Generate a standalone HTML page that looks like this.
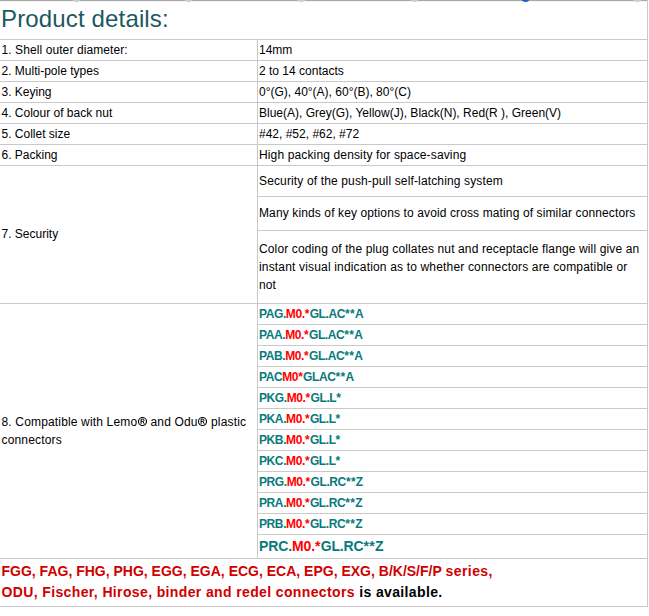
<!DOCTYPE html>
<html><head><meta charset="utf-8">
<style>
html,body{margin:0;padding:0;background:#fff;width:649px;height:616px;overflow:hidden;position:relative;font-family:"Liberation Sans",sans-serif;}
.h{position:absolute;height:1px;background:#c9c9c9;}
.v{position:absolute;width:1px;background:#c9c9c9;}
.t{position:absolute;font-size:12px;line-height:18px;color:#000;white-space:nowrap;}
.c{position:absolute;font-size:12px;line-height:18px;font-weight:bold;color:#087a7c;white-space:nowrap;left:259px;letter-spacing:-0.4px;}
.r{color:#f00;}
.c i{font-style:normal;letter-spacing:0.3px;}
.rg{display:inline-block;vertical-align:baseline;margin:0 0.3px 0 0.5px;position:relative;top:0px;}
.dot{position:absolute;top:-6px;width:9px;height:8px;border-radius:50%;background:#cdcdcd;}
</style></head><body>
<!-- top strip -->
<div class="h" style="left:0;top:0;width:647px;background:#a9a9a9"></div>
<div class="h" style="left:0;top:1px;width:647px;background:#f3f3f3"></div>
<div class="dot" style="left:72px"></div>
<div class="dot" style="left:184px"></div>
<div class="dot" style="left:297px"></div>
<div class="dot" style="left:410px"></div>
<div class="dot" style="left:521px;background:#1565c0"></div>
<div class="dot" style="left:633px"></div>

<div style="position:absolute;left:1px;top:5px;font-size:24px;line-height:28px;color:#1b5962;letter-spacing:0.15px;white-space:nowrap">Product details:</div>

<!-- lines -->
<div class="h" style="left:0;top:39px;width:647px"></div>
<div class="h" style="left:0;top:60px;width:647px"></div>
<div class="h" style="left:0;top:81px;width:647px"></div>
<div class="h" style="left:0;top:102px;width:647px"></div>
<div class="h" style="left:0;top:123px;width:647px"></div>
<div class="h" style="left:0;top:144px;width:647px"></div>
<div class="h" style="left:0;top:165px;width:647px"></div>
<div class="h" style="left:257px;top:196px;width:390px"></div>
<div class="h" style="left:257px;top:230px;width:390px"></div>
<div class="h" style="left:0;top:303px;width:647px"></div>
<div class="h" style="left:257px;top:324px;width:390px"></div>
<div class="h" style="left:257px;top:345px;width:390px"></div>
<div class="h" style="left:257px;top:366px;width:390px"></div>
<div class="h" style="left:257px;top:387px;width:390px"></div>
<div class="h" style="left:257px;top:408px;width:390px"></div>
<div class="h" style="left:257px;top:429px;width:390px"></div>
<div class="h" style="left:257px;top:450px;width:390px"></div>
<div class="h" style="left:257px;top:471px;width:390px"></div>
<div class="h" style="left:257px;top:492px;width:390px"></div>
<div class="h" style="left:257px;top:513px;width:390px"></div>
<div class="h" style="left:257px;top:534px;width:390px"></div>
<div class="h" style="left:0;top:558px;width:647px"></div>
<div class="h" style="left:0;top:606px;width:648px"></div>
<div class="v" style="left:257px;top:39px;height:519px"></div>
<div class="v" style="left:647px;top:0;height:607px"></div>

<!-- col1 -->
<div class="t" style="left:1.5px;top:41px;letter-spacing:0.09px">1. Shell outer diameter:</div>
<div class="t" style="left:1.5px;top:62px">2. Multi-pole types</div>
<div class="t" style="left:1.5px;top:83px">3. Keying</div>
<div class="t" style="left:1.5px;top:104px">4. Colour of back nut</div>
<div class="t" style="left:1.5px;top:125px">5. Collet size</div>
<div class="t" style="left:1.5px;top:146px">6. Packing</div>
<div class="t" style="left:1.5px;top:225px">7. Security</div>
<div class="t" style="left:1.5px;top:413px;letter-spacing:0.16px">8. Compatible with Lemo<svg class="rg" width="9" height="9" viewBox="0 0 9 9"><circle cx="4.5" cy="4.5" r="4" fill="none" stroke="#000" stroke-width="1.1"/><path d="M3.1 6.8V2.2h1.6c0.9 0 1.4 0.4 1.4 1.1s-0.5 1.1-1.4 1.1H3.1M4.9 4.4L6.2 6.8" fill="none" stroke="#000" stroke-width="1"/></svg> and Odu<svg class="rg" width="9" height="9" viewBox="0 0 9 9"><circle cx="4.5" cy="4.5" r="4" fill="none" stroke="#000" stroke-width="1.1"/><path d="M3.1 6.8V2.2h1.6c0.9 0 1.4 0.4 1.4 1.1s-0.5 1.1-1.4 1.1H3.1M4.9 4.4L6.2 6.8" fill="none" stroke="#000" stroke-width="1"/></svg> plastic<br>connectors</div>

<!-- col2 -->
<div class="t" style="left:259px;top:41px">14mm</div>
<div class="t" style="left:259px;top:62px">2 to 14 contacts</div>
<div class="t" style="left:259px;top:83px">0°(G), 40°(A), 60°(B), 80°(C)</div>
<div class="t" style="left:259px;top:104px">Blue(A), Grey(G), Yellow(J), Black(N), Red(R ), Green(V)</div>
<div class="t" style="left:259px;top:125px">#42, #52, #62, #72</div>
<div class="t" style="left:259px;top:146px;letter-spacing:0.14px">High packing density for space-saving</div>
<div class="t" style="left:259px;top:172px;letter-spacing:0.14px">Security of the push-pull self-latching system</div>
<div class="t" style="left:259px;top:204px;letter-spacing:0.12px">Many kinds of key options to avoid cross mating of similar connectors</div>
<div class="t" style="left:259px;top:240px;letter-spacing:0.13px">Color coding of the plug collates nut and receptacle flange will give an<br><span style="letter-spacing:0.17px">instant visual indication as to whether connectors are compatible or</span><br>not</div>

<div class="c" style="top:305px">PAG.<span class="r">M0.<i>*</i></span>GL.AC<i>*</i><i>*</i>A</div>
<div class="c" style="top:326px">PAA.<span class="r">M0.<i>*</i></span>GL.AC<i>*</i><i>*</i>A</div>
<div class="c" style="top:347px">PAB.<span class="r">M0.<i>*</i></span>GL.AC<i>*</i><i>*</i>A</div>
<div class="c" style="top:368px">PAC<span class="r">M0<i>*</i></span>GLAC<i>*</i><i>*</i>A</div>
<div class="c" style="top:389px">PKG.<span class="r">M0.<i>*</i></span>GL.L<i>*</i></div>
<div class="c" style="top:410px">PKA.<span class="r">M0.<i>*</i></span>GL.L<i>*</i></div>
<div class="c" style="top:431px">PKB.<span class="r">M0.<i>*</i></span>GL.L<i>*</i></div>
<div class="c" style="top:452px">PKC.<span class="r">M0.<i>*</i></span>GL.L<i>*</i></div>
<div class="c" style="top:473px">PRG.<span class="r">M0.<i>*</i></span>GL.RC<i>*</i><i>*</i>Z</div>
<div class="c" style="top:494px">PRA.<span class="r">M0.<i>*</i></span>GL.RC<i>*</i><i>*</i>Z</div>
<div class="c" style="top:515px">PRB.<span class="r">M0.<i>*</i></span>GL.RC<i>*</i><i>*</i>Z</div>
<div class="c" style="top:536px;font-size:14px;line-height:20px;letter-spacing:-0.13px">PRC.<span class="r">M0.<i>*</i></span>GL.RC<i>*</i><i>*</i>Z</div>

<div class="t" style="left:1.5px;top:561px;font-size:14px;line-height:21px;font-weight:bold;color:#d00000">FGG, FAG, FHG, PHG, EGG, EGA, ECG, ECA, EPG, EXG, B/K/S/F/P <span style="letter-spacing:0.45px">series,</span><br><span style="letter-spacing:0.37px">ODU, Fischer, Hirose, binder and redel connectors <span style="color:#000">is available.</span></span></div>
</body></html>
